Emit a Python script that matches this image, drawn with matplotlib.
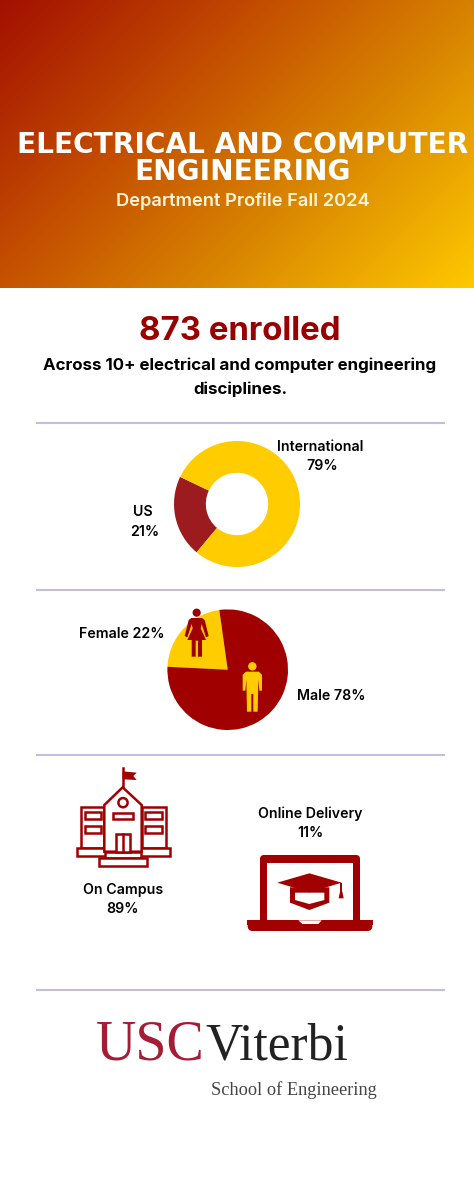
import numpy as np
import matplotlib
matplotlib.use('Agg')
import matplotlib.pyplot as plt
from matplotlib.patches import Polygon, Circle, Rectangle, FancyBboxPatch
from matplotlib.colors import LinearSegmentedColormap

W, H = 474, 1185
RED = '#A00000'
YEL = '#FFCC00'
RULE = '#C6BCE0'

residency_labels = ['US', 'International']
residency_values = [21, 79]
residency_colors = ['#9B1B1E', YEL]
gender_labels = ['Female', 'Male']
gender_values = [22, 78]
gender_colors = [YEL, RED]
delivery_labels = ['On Campus', 'Online Delivery']
delivery_values = [89, 11]
enrolled = 873

plt.rcParams['font.family'] = ['Inter', 'Open Sans', 'DejaVu Sans']
fig = plt.figure(figsize=(W / 100, H / 100), dpi=100, facecolor='white')
bg = fig.add_axes([0, 0, 1, 1])
bg.set_xlim(0, W); bg.set_ylim(H, 0); bg.axis('off')

# Header gradient
nx, ny = 237, 144
gx, gy = np.meshgrid(np.linspace(0, 1, nx), np.linspace(0, 1, ny))
cmap = LinearSegmentedColormap.from_list('hdr', ['#A31000', '#C24A00', '#DB8A00', '#FFC800'])
bg.imshow((gx * 474 + gy * 288) / (474 + 288), extent=(0, W, 288, 0), cmap=cmap,
          aspect='auto', zorder=0, vmin=0, vmax=1)
bg.set_xlim(0, W); bg.set_ylim(H, 0)

def T(x, y, s, size, color='black', weight='semibold', **kw):
    bg.text(x, y, s, fontsize=size * 0.72, color=color, fontweight=weight,
            ha=kw.pop('ha', 'center'), va='center', **kw)

T(243, 145, 'ELECTRICAL AND COMPUTER', 28, 'white', 'bold', family=['DejaVu Sans'])
T(243, 172, 'ENGINEERING', 28, 'white', 'bold', family=['DejaVu Sans'])
T(243, 201, 'Department Profile Fall 2024', 18.3, '#FFF3D6', 'semibold')
T(240, 331, f'{enrolled} enrolled', 33, '#990000', 'bold')
T(240, 365, 'Across 10+ electrical and computer engineering', 16.9, 'black', 'bold')
T(240, 389, 'disciplines.', 16.9, 'black', 'bold')

for y in [423, 590, 755, 990]:
    bg.plot([36, 445], [y, y], color=RULE, lw=1.5, solid_capstyle='butt')

def pie_axes(cx, cy, r):
    ax = fig.add_axes([(cx - r) / W, 1 - (cy + r) / H, 2 * r / W, 2 * r / H])
    ax.set_xlim(-1, 1); ax.set_ylim(-1, 1); ax.axis('off')
    return ax

a1 = pie_axes(237, 504, 63)
a1.pie(residency_values, colors=residency_colors, startangle=154.5, radius=1,
       wedgeprops=dict(width=0.505, linewidth=0))
a1.set_xlim(-1, 1); a1.set_ylim(-1, 1)

a2 = pie_axes(227.7, 669.7, 60.3)
a2.pie(gender_values, colors=gender_colors, startangle=98, radius=1,
       wedgeprops=dict(linewidth=0))
a2.set_xlim(-1, 1); a2.set_ylim(-1, 1)

LS = 14.2
T(320, 447, residency_labels[1], LS)
T(322, 466, f'{residency_values[1]}%', LS)
T(143, 512, residency_labels[0], LS)
T(145, 532, f'{residency_values[0]}%', LS)
T(122, 634, f'{gender_labels[0]} {gender_values[0]}%', LS)
T(331, 696, f'{gender_labels[1]} {gender_values[1]}%', LS)
T(123, 890, delivery_labels[0], LS)
T(123, 909, f'{delivery_values[0]}%', LS)
T(310, 814, delivery_labels[1], LS)
T(310, 833, f'{delivery_values[1]}%', LS)

ov = fig.add_axes([0, 0, 1, 1], zorder=5)
ov.set_xlim(0, W); ov.set_ylim(H, 0); ov.axis('off'); ov.patch.set_alpha(0)

def zp(pts, ox, oy):
    return [(x / 3 + ox, y / 3 + oy) for x, y in pts]

def poly(pts, ox, oy, c, **kw):
    ov.add_patch(Polygon(zp(pts, ox, oy), closed=True, fc=c, ec='none', **kw))

def box(x0, y0, x1, y1, ox, oy, c='none', ec='none', lw=0):
    ov.add_patch(Rectangle((x0 / 3 + ox, y0 / 3 + oy), (x1 - x0) / 3, (y1 - y0) / 3,
                           fc=c, ec=ec, lw=lw, joinstyle='miter'))

# Female
ov.add_patch(Circle((440 / 3 + 50, 578 / 3 + 420), 4.1, fc=RED, ec='none'))
poly([(424, 594), (456, 594), (464, 600), (476, 648), (468, 652), (455, 612), (452, 625),
      (468, 660), (456, 660), (456, 710), (444, 710), (444, 662), (437, 662), (437, 710),
      (425, 710), (425, 660), (412, 660), (428, 625), (425, 612), (412, 652), (404, 648),
      (416, 600)], 50, 420, RED)
# Male
ov.add_patch(Circle((607 / 3 + 50, 739 / 3 + 420), 4.2, fc=YEL, ec='none'))
poly([(588, 755), (626, 755), (636, 764), (636, 812), (628, 812), (625, 778), (623, 875),
      (610, 875), (610, 822), (604, 822), (604, 875), (591, 875), (589, 778), (586, 812),
      (578, 812), (578, 764)], 50, 420, YEL)

# School icon
LW = 1.8
sx, sy = 50, 750
def S(x0, y0, x1, y1, fill='white'):
    box(x0, y0, x1, y1, sx, sy, c=fill, ec=RED, lw=LW)
for r in [(92, 170, 163, 295), (275, 170, 347, 295), (80, 295, 360, 317),
          (165, 305, 272, 325), (147, 325, 292, 347),
          (105, 187, 153, 208), (105, 228, 153, 250),
          (285, 187, 335, 208), (285, 228, 335, 250)]:
    S(*r)
ov.add_patch(Polygon(zp([(163, 305), (163, 165), (218, 112), (275, 165), (275, 305)], sx, sy),
                     closed=True, fc='white', ec=RED, lw=LW, joinstyle='miter'))
S(188, 190, 250, 208)
S(197, 252, 240, 305)
xs, ys = zip(*zp([(218, 252), (218, 305)], sx, sy))
ov.plot(xs, ys, color=RED, lw=LW)
xs, ys = zip(*zp([(218, 112), (218, 55)], sx, sy))
ov.plot(xs, ys, color=RED, lw=LW)
ov.add_patch(Polygon(zp([(218, 64), (260, 68), (250, 78), (260, 90), (218, 88)], sx, sy),
                     closed=True, fc=RED, ec='none'))
ov.add_patch(Circle((219 / 3 + sx, 158 / 3 + sy), 4.6, fc='white', ec=RED, lw=LW))

# Laptop icon
ov.add_patch(FancyBboxPatch((630 / 3 + sx + 4, 315 / 3 + sy + 4), 300 / 3 - 8, 205 / 3 - 4,
                            boxstyle='round,pad=4', fc=RED, ec='none'))
box(652, 338, 908, 512, sx, sy, c='white')
ov.add_patch(FancyBboxPatch((608 / 3 + sx, 522 / 3 + sy), 344 / 3, 6 / 3,
                            boxstyle='round,pad=5', fc=RED, ec='none'))
box(592, 511, 968, 525, sx, sy, c=RED)
box(585, 490, 975, 511, sx, sy, c='white')
box(630, 490, 652, 511, sx, sy, c=RED)
box(908, 490, 930, 511, sx, sy, c=RED)
poly([(745, 511), (815, 511), (805, 522), (757, 522)], sx, sy, 'white')
poly([(720, 412), (838, 412), (838, 458), (778, 480), (720, 458)], sx, sy, RED)
poly([(735, 428), (823, 428), (823, 450), (778, 462), (735, 450)], sx, sy, 'white')
poly([(682, 398), (778, 370), (875, 398), (778, 427)], sx, sy, RED)
box(871, 400, 876, 428, sx, sy, c=RED)
poly([(870, 425), (877, 425), (881, 445), (866, 445)], sx, sy, RED)

# Logo
LF = ['Liberation Serif']
bg.text(96, 1045, 'USC', fontsize=56 * 0.72, color='#A51C36', family=LF, ha='left', va='center')
bg.text(205, 1046, 'Viterbi', fontsize=51.5 * 0.72, color='#222222', family=LF, ha='left', va='center')
bg.text(211, 1090, 'School of Engineering', fontsize=18.4 * 0.72, color='#444444', family=LF,
        ha='left', va='center')

fig.savefig('out.png', dpi=100, facecolor='white')
